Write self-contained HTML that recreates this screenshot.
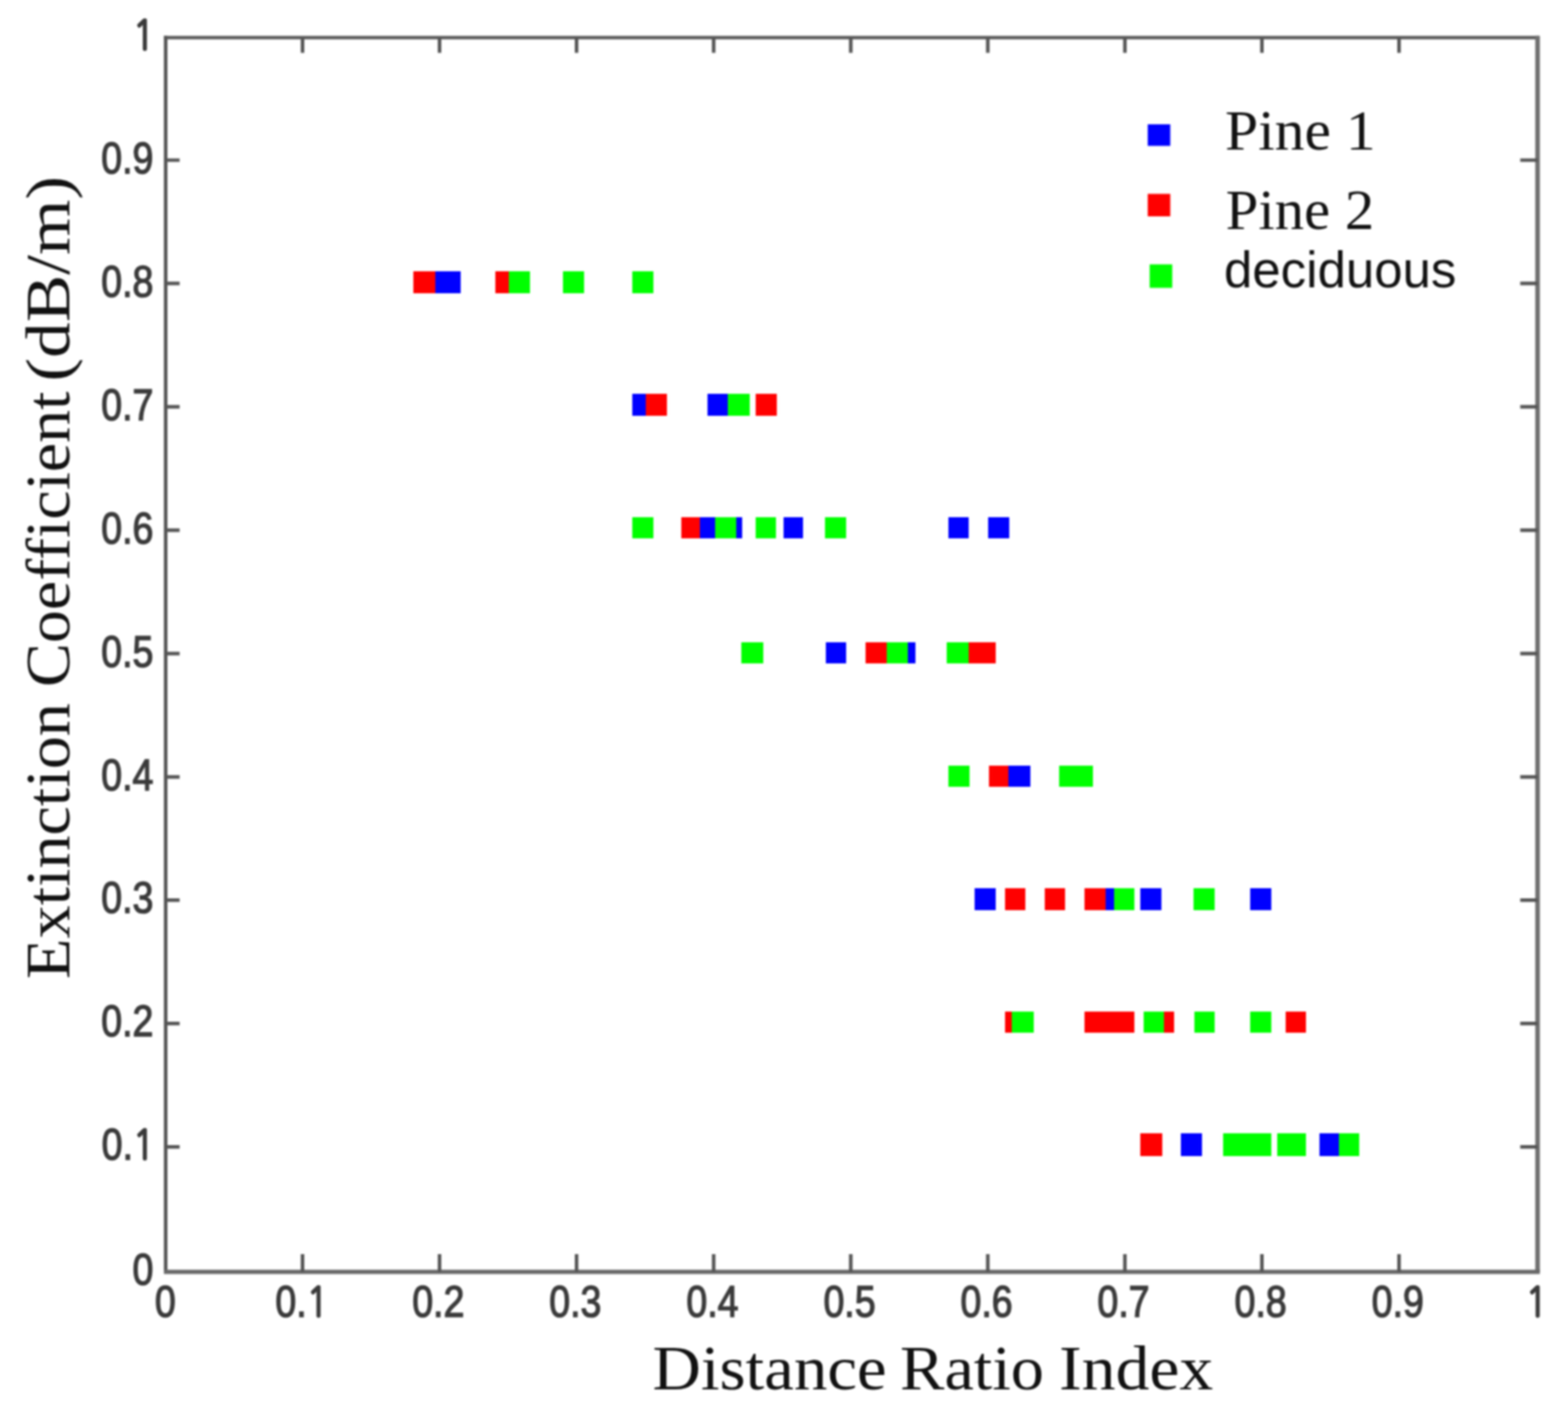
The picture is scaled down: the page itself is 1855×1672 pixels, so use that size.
<!DOCTYPE html>
<html><head><meta charset="utf-8"><title>Extinction Coefficient vs Distance Ratio Index</title>
<style>
html,body{margin:0;padding:0;background:#fff;}
body{width:1855px;height:1672px;overflow:hidden;}
svg{display:block;}
#fig{width:1855px;height:1672px;filter:blur(0.8px);}
</style></head>
<body>
<div id="fig">
<svg width="1855" height="1672" viewBox="0 0 1855 1672">
<rect x="0" y="0" width="1855" height="1672" fill="#ffffff"/>
<g shape-rendering="crispEdges">
<rect x="489.4" y="320.6" width="25.1" height="25.9" fill="#ff0000"/>
<rect x="514.5" y="320.6" width="30.7" height="25.9" fill="#0000ff"/>
<rect x="586.0" y="320.6" width="16.2" height="25.9" fill="#ff0000"/>
<rect x="602.2" y="320.6" width="25.2" height="25.9" fill="#00ff00"/>
<rect x="665.8" y="320.6" width="25.4" height="25.9" fill="#00ff00"/>
<rect x="747.8" y="320.6" width="25.4" height="25.9" fill="#00ff00"/>
<rect x="747.8" y="466.4" width="16.2" height="25.8" fill="#0000ff"/>
<rect x="764.0" y="466.4" width="25.2" height="25.8" fill="#ff0000"/>
<rect x="837.2" y="466.4" width="24.1" height="25.8" fill="#0000ff"/>
<rect x="861.3" y="466.4" width="25.9" height="25.8" fill="#00ff00"/>
<rect x="894.4" y="466.4" width="24.4" height="25.8" fill="#ff0000"/>
<rect x="747.8" y="611.6" width="25.1" height="25.8" fill="#00ff00"/>
<rect x="805.5" y="611.6" width="22.9" height="25.8" fill="#ff0000"/>
<rect x="828.4" y="611.6" width="17.3" height="25.8" fill="#0000ff"/>
<rect x="845.7" y="611.6" width="25.3" height="25.8" fill="#00ff00"/>
<rect x="871.0" y="611.6" width="6.5" height="25.8" fill="#0000ff"/>
<rect x="894.2" y="611.6" width="23.8" height="25.8" fill="#00ff00"/>
<rect x="926.5" y="611.6" width="23.7" height="25.8" fill="#0000ff"/>
<rect x="975.8" y="611.6" width="25.1" height="25.8" fill="#00ff00"/>
<rect x="1121.5" y="611.6" width="24.9" height="25.8" fill="#0000ff"/>
<rect x="1168.8" y="611.6" width="25.4" height="25.8" fill="#0000ff"/>
<rect x="877.3" y="760.3" width="25.9" height="24.9" fill="#00ff00"/>
<rect x="977.2" y="760.3" width="24.0" height="24.9" fill="#0000ff"/>
<rect x="1023.9" y="760.3" width="24.9" height="24.9" fill="#ff0000"/>
<rect x="1048.8" y="760.3" width="25.6" height="24.9" fill="#00ff00"/>
<rect x="1074.4" y="760.3" width="8.4" height="24.9" fill="#0000ff"/>
<rect x="1120.3" y="760.3" width="25.5" height="24.9" fill="#00ff00"/>
<rect x="1145.8" y="760.3" width="32.0" height="24.9" fill="#ff0000"/>
<rect x="1121.7" y="905.9" width="25.0" height="25.3" fill="#00ff00"/>
<rect x="1170.4" y="905.9" width="22.4" height="25.3" fill="#ff0000"/>
<rect x="1192.8" y="905.9" width="25.8" height="25.3" fill="#0000ff"/>
<rect x="1252.5" y="905.9" width="40.3" height="25.3" fill="#00ff00"/>
<rect x="1153.1" y="1051.4" width="25.0" height="25.5" fill="#0000ff"/>
<rect x="1188.9" y="1051.4" width="24.0" height="25.5" fill="#ff0000"/>
<rect x="1236.0" y="1051.4" width="24.1" height="25.5" fill="#ff0000"/>
<rect x="1283.1" y="1051.4" width="25.1" height="25.5" fill="#ff0000"/>
<rect x="1308.2" y="1051.4" width="9.3" height="25.5" fill="#0000ff"/>
<rect x="1317.5" y="1051.4" width="24.7" height="25.5" fill="#00ff00"/>
<rect x="1349.1" y="1051.4" width="25.1" height="25.5" fill="#0000ff"/>
<rect x="1412.2" y="1051.4" width="25.0" height="25.5" fill="#00ff00"/>
<rect x="1478.8" y="1051.4" width="25.0" height="25.5" fill="#0000ff"/>
<rect x="1188.5" y="1196.6" width="8.7" height="25.1" fill="#ff0000"/>
<rect x="1197.2" y="1196.6" width="25.3" height="25.1" fill="#00ff00"/>
<rect x="1283.4" y="1196.6" width="58.9" height="25.1" fill="#ff0000"/>
<rect x="1352.8" y="1196.6" width="24.1" height="25.1" fill="#00ff00"/>
<rect x="1376.9" y="1196.6" width="12.2" height="25.1" fill="#ff0000"/>
<rect x="1413.3" y="1196.6" width="23.9" height="25.1" fill="#00ff00"/>
<rect x="1478.8" y="1196.6" width="25.1" height="25.1" fill="#00ff00"/>
<rect x="1520.8" y="1196.6" width="24.0" height="25.1" fill="#ff0000"/>
<rect x="1349.1" y="1341.1" width="25.6" height="26.6" fill="#ff0000"/>
<rect x="1396.6" y="1341.1" width="24.9" height="26.6" fill="#0000ff"/>
<rect x="1447.2" y="1341.1" width="56.5" height="26.6" fill="#00ff00"/>
<rect x="1510.6" y="1341.1" width="33.9" height="26.6" fill="#00ff00"/>
<rect x="1561.2" y="1341.1" width="22.6" height="26.6" fill="#0000ff"/>
<rect x="1583.8" y="1341.1" width="24.1" height="26.6" fill="#00ff00"/>
</g>
<path d="M196.0 44.5H1819.0" stroke="#585858" stroke-width="4.2" stroke-linecap="square" fill="none"/>
<path d="M196.0 44.5V1505.0" stroke="#555555" stroke-width="4.2" stroke-linecap="square" fill="none"/>
<path d="M1819.0 42.5V1505.0" stroke="#6e6e6e" stroke-width="5.4" fill="none"/>
<path d="M194.0 1505.0H1821.7" stroke="#686868" stroke-width="5.0" fill="none"/>
<path d="M357.9 1505.0V1484.0M357.9 44.5V62.5M196.0 1357.1H212.5M1819.0 1357.1H1798.5M520.0 1505.0V1484.0M520.0 44.5V62.5M196.0 1211.2H212.5M1819.0 1211.2H1798.5M682.1 1505.0V1484.0M682.1 44.5V62.5M196.0 1065.2H212.5M1819.0 1065.2H1798.5M844.3 1505.0V1484.0M844.3 44.5V62.5M196.0 919.3H212.5M1819.0 919.3H1798.5M1006.5 1505.0V1484.0M1006.5 44.5V62.5M196.0 773.3H212.5M1819.0 773.3H1798.5M1168.6 1505.0V1484.0M1168.6 44.5V62.5M196.0 627.3H212.5M1819.0 627.3H1798.5M1330.8 1505.0V1484.0M1330.8 44.5V62.5M196.0 481.4H212.5M1819.0 481.4H1798.5M1492.9 1505.0V1484.0M1492.9 44.5V62.5M196.0 335.4H212.5M1819.0 335.4H1798.5M1655.1 1505.0V1484.0M1655.1 44.5V62.5M196.0 189.5H212.5M1819.0 189.5H1798.5" stroke="#555555" stroke-width="4.2" fill="none"/>
<g font-family="'Liberation Sans', Arial, sans-serif" font-size="51" fill="#3a3a3a" stroke="#3a3a3a" stroke-width="1.5">
<text transform="translate(181.5 1520.3) scale(0.87 1)" text-anchor="end">0</text>
<text transform="translate(181.5 1372.3) scale(0.87 1)" text-anchor="end">0.<tspan font-family="NanumGothic, 'Liberation Sans', sans-serif" font-size="48.5" letter-spacing="-1.6" stroke-width="2.3">1</tspan></text>
<text transform="translate(181.5 1226.4) scale(0.87 1)" text-anchor="end">0.2</text>
<text transform="translate(181.5 1080.4) scale(0.87 1)" text-anchor="end">0.3</text>
<text transform="translate(181.5 934.5) scale(0.87 1)" text-anchor="end">0.4</text>
<text transform="translate(181.5 788.5) scale(0.87 1)" text-anchor="end">0.5</text>
<text transform="translate(181.5 642.5) scale(0.87 1)" text-anchor="end">0.6</text>
<text transform="translate(181.5 496.6) scale(0.87 1)" text-anchor="end">0.7</text>
<text transform="translate(181.5 350.6) scale(0.87 1)" text-anchor="end">0.8</text>
<text transform="translate(181.5 204.7) scale(0.87 1)" text-anchor="end">0.9</text>
<text transform="translate(181.5 58.7) scale(0.87 1)" text-anchor="end"><tspan font-family="NanumGothic, 'Liberation Sans', sans-serif" font-size="48.5" letter-spacing="-1.6" stroke-width="2.3">1</tspan></text>
<text transform="translate(195.7 1557.6) scale(0.87 1)" text-anchor="middle">0</text>
<text transform="translate(356.4 1557.6) scale(0.87 1)" text-anchor="middle">0.<tspan font-family="NanumGothic, 'Liberation Sans', sans-serif" font-size="48.5" letter-spacing="-1.6" stroke-width="2.3">1</tspan></text>
<text transform="translate(518.5 1557.6) scale(0.87 1)" text-anchor="middle">0.2</text>
<text transform="translate(680.6 1557.6) scale(0.87 1)" text-anchor="middle">0.3</text>
<text transform="translate(842.8 1557.6) scale(0.87 1)" text-anchor="middle">0.4</text>
<text transform="translate(1005.0 1557.6) scale(0.87 1)" text-anchor="middle">0.5</text>
<text transform="translate(1167.1 1557.6) scale(0.87 1)" text-anchor="middle">0.6</text>
<text transform="translate(1329.2 1557.6) scale(0.87 1)" text-anchor="middle">0.7</text>
<text transform="translate(1491.4 1557.6) scale(0.87 1)" text-anchor="middle">0.8</text>
<text transform="translate(1653.6 1557.6) scale(0.87 1)" text-anchor="middle">0.9</text>
<text transform="translate(1817.2 1557.6) scale(0.87 1)" text-anchor="middle"><tspan font-family="NanumGothic, 'Liberation Sans', sans-serif" font-size="48.5" letter-spacing="-1.6" stroke-width="2.3">1</tspan></text>
</g>
<text x="772.1" y="1643.8" font-family="'Liberation Serif', 'Times New Roman', serif" font-size="75" fill="#111" textLength="276.9" lengthAdjust="spacingAndGlyphs">Distance</text>
<text x="1064.8" y="1643.8" font-family="'Liberation Serif', 'Times New Roman', serif" font-size="75" fill="#111" textLength="170.3" lengthAdjust="spacingAndGlyphs">Ratio</text>
<text x="1253.0" y="1643.8" font-family="'Liberation Serif', 'Times New Roman', serif" font-size="75" fill="#111" textLength="182.3" lengthAdjust="spacingAndGlyphs">Index</text>
<text transform="translate(81.8 0) rotate(-90)" x="-1158.4" y="0" font-family="'Liberation Serif', 'Times New Roman', serif" font-size="75" fill="#111" textLength="326.4" lengthAdjust="spacingAndGlyphs">Extinction</text>
<text transform="translate(81.8 0) rotate(-90)" x="-813.0" y="0" font-family="'Liberation Serif', 'Times New Roman', serif" font-size="75" fill="#111" textLength="349.7" lengthAdjust="spacingAndGlyphs">Coefficient</text>
<text transform="translate(81.8 0) rotate(-90)" x="-451.5" y="0" font-family="'Liberation Serif', 'Times New Roman', serif" font-size="75" fill="#111" textLength="243.3" lengthAdjust="spacingAndGlyphs">(dB/m)</text>
<rect x="1357.8" y="147.1" width="26.7" height="25.5" fill="#0000ff"/>
<rect x="1357.8" y="229.4" width="26.7" height="26.6" fill="#ff0000"/>
<rect x="1360.1" y="312.8" width="26.7" height="27.8" fill="#00ff00"/>
<text x="1449.2" y="176.6" font-family="'Liberation Serif', 'Times New Roman', serif" font-size="67" fill="#111" textLength="178.2" lengthAdjust="spacingAndGlyphs">Pine 1</text>
<text x="1450.1" y="271.0" font-family="'Liberation Serif', 'Times New Roman', serif" font-size="67" fill="#111" textLength="175.6" lengthAdjust="spacingAndGlyphs">Pine 2</text>
<text x="1448.0" y="340.3" font-family="'Liberation Sans', Arial, sans-serif" font-size="62" fill="#111" textLength="275.0" lengthAdjust="spacingAndGlyphs">deciduous</text>
</svg>
</div>
</body></html>
